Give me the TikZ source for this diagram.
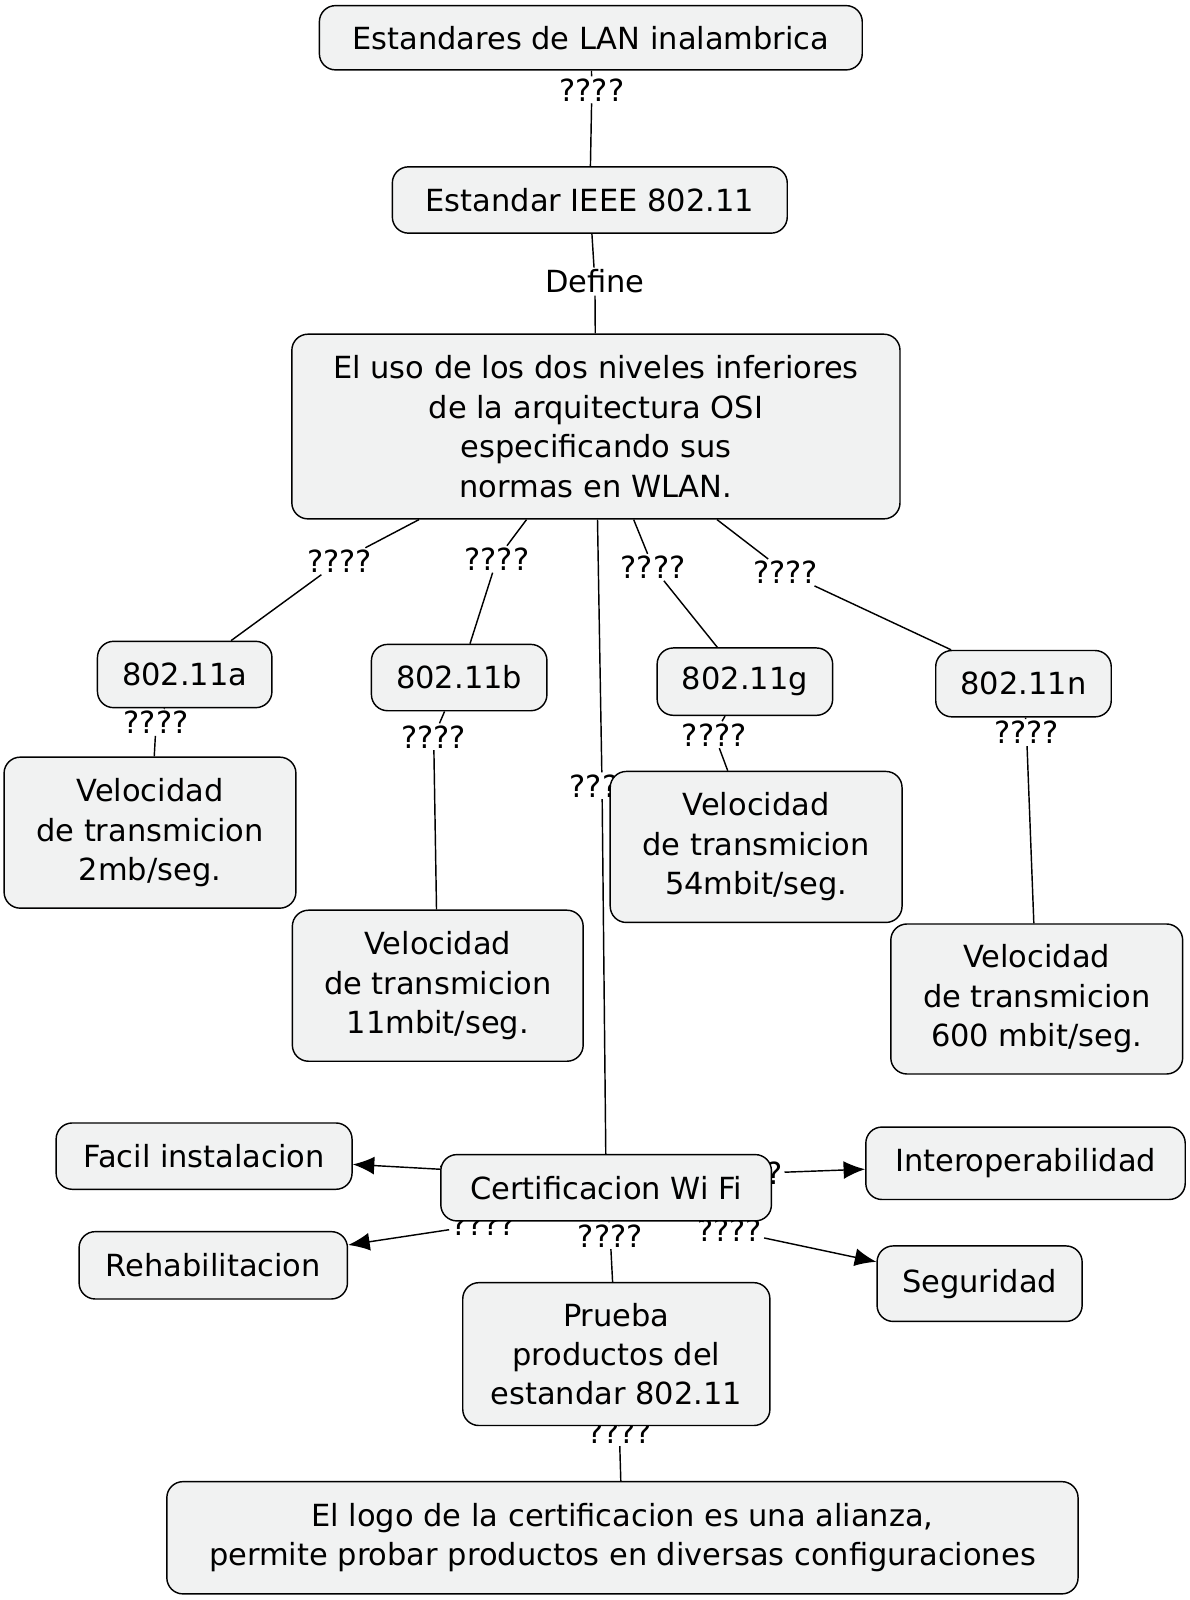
\documentclass[tikz,border=0pt]{standalone}
\usepackage{fontspec}
\setmainfont{DejaVu Sans}
\usetikzlibrary{backgrounds, arrows.meta}

\begin{document}
\begin{tikzpicture}
                [x=0.02cm, y=-0.02cm,
                bsty/.style={rectangle, rounded corners=9pt, draw=black, fill=cyan!6!gray!12, thick, align=center, inner sep=0.25em, font=\fontsize{17}{22}\selectfont},
                lsty/.style={fill=white, inner sep=1pt, font=\fontsize{17}{20}\selectfont},
                asty/.style={-{Latex[length=12pt, width=10pt]}, thick}]
                \useasboundingbox (0,0) rectangle (1166,1568);
                % nodes
                \node[bsty, minimum width=532*0.02cm, minimum height=63*0.02cm] (std) at (579,37) {Estandares de LAN inalambrica};
                \node[bsty, minimum width=387*0.02cm, minimum height=65*0.02cm] (ieee) at (578,196) {Estandar IEEE 802.11};
                \node[bsty, minimum width=596*0.02cm, minimum height=181*0.02cm] (uso) at (584,418) {El uso de los dos niveles inferiores\\de la arquitectura OSI\\especificando sus\\normas en WLAN.};
                \node[bsty, minimum width=171*0.02cm, minimum height=65*0.02cm] (a) at (181,661) {802.11a};
                \node[bsty, minimum width=172*0.02cm, minimum height=65*0.02cm] (b) at (450,664) {802.11b};
                \node[bsty, minimum width=172*0.02cm, minimum height=66*0.02cm] (g) at (730,668) {802.11g};
                \node[bsty, minimum width=172*0.02cm, minimum height=65*0.02cm] (n) at (1003,670) {802.11n};
                \node[bsty, minimum width=286*0.02cm, minimum height=148*0.02cm] (va) at (147,816) {Velocidad\\de transmicion\\2mb/seg.};
                \node[bsty, minimum width=285*0.02cm, minimum height=148*0.02cm] (vb) at (429,966) {Velocidad\\de transmicion\\11mbit/seg.};
                \node[bsty, minimum width=286*0.02cm, minimum height=148*0.02cm] (vg) at (741,830) {Velocidad\\de transmicion\\54mbit/seg.};
                \node[bsty, minimum width=286*0.02cm, minimum height=147*0.02cm] (vn) at (1016,979) {Velocidad\\de transmicion\\600 mbit/seg.};
                \node[bsty, minimum width=290*0.02cm, minimum height=65*0.02cm] (facil) at (200,1133) {Facil instalacion};
                \node[bsty, minimum width=313*0.02cm, minimum height=71*0.02cm] (inter) at (1005,1140) {Interoperabilidad};
                \node[bsty, minimum width=324*0.02cm, minimum height=65*0.02cm] (cert) at (594,1164) {Certificacion Wi Fi};
                \node[bsty, minimum width=263*0.02cm, minimum height=66*0.02cm] (rehab) at (209,1240) {Rehabilitacion};
                \node[bsty, minimum width=201*0.02cm, minimum height=74*0.02cm] (seg) at (960,1258) {Seguridad};
                \node[bsty, minimum width=301*0.02cm, minimum height=140*0.02cm] (prueba) at (604,1327) {Prueba\\productos del\\estandar 802.11};
                \node[bsty, minimum width=893*0.02cm, minimum height=110*0.02cm] (logo) at (610,1507) {El logo de la certificacion es una alianza,\\permite probar productos en diversas configuraciones};
                % links
                \begin{scope}[on background layer]
                \node[lsty] (l1) at (580,88) {????};
                \node[lsty] (l2) at (583,276) {Define};
                \node[lsty] (l3) at (333,550) {????};
                \node[lsty] (l4) at (487,548) {????};
                \node[lsty] (l5) at (640,556) {????};
                \node[lsty] (l6) at (770,561) {????};
                \node[lsty] (l7) at (590,770) {????};
                \node[lsty] (l8) at (153,708) {????};
                \node[lsty] (l9) at (425,722) {????};
                \node[lsty] (l10) at (700,720) {????};
                \node[lsty] (l11) at (1006,718) {????};
                \node[lsty] (l12) at (470,1148) {????};
                \node[lsty] (l13) at (735,1150) {????};
                \node[lsty] (l14) at (474,1200) {????};
                \node[lsty] (l15) at (598,1211) {????};
                \node[lsty] (l16) at (715,1206) {????};
                \node[lsty] (l17) at (607,1404) {????};
                \draw[thick] (std) -- (l1) -- (ieee);
                \draw[thick] (ieee) -- (l2) -- (uso);
                \draw[thick] (uso) -- (l3) -- (a);
                \draw[thick] (uso) -- (l4) -- (b);
                \draw[thick] (uso) -- (l5) -- (g);
                \draw[thick] (uso) -- (l6) -- (n);
                \draw[thick] (uso) -- (l7) -- (cert);
                \draw[thick] (a) -- (l8) -- (va);
                \draw[thick] (b) -- (l9) -- (vb);
                \draw[thick] (g) -- (l10) -- (vg);
                \draw[thick] (n) -- (l11) -- (vn);
                \draw[thick] (cert) -- (l12);
                \draw[asty] (l12) -- (facil);
                \draw[thick] (cert) -- (l13);
                \draw[asty] (l13) -- (inter);
                \draw[thick] (cert) -- (l14);
                \draw[asty] (l14) -- (rehab);
                \draw[thick] (cert) -- (l16);
                \draw[asty] (l16) -- (seg);
                \draw[thick] (cert) -- (l15) -- (prueba);
                \draw[thick] (prueba) -- (l17) -- (logo);
                \end{scope}
            \end{tikzpicture}
\end{document}
